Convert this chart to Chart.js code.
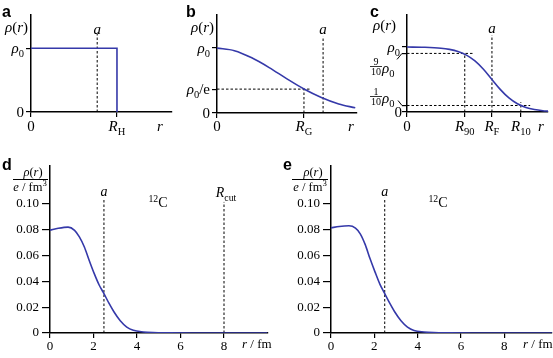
<!DOCTYPE html>
<html>
<head>
<meta charset="utf-8">
<script src="https://cdn.jsdelivr.net/npm/chart.js@4.4.1/dist/chart.umd.min.js"></script>
<style>
  body { margin: 0; background: #fff; }
  #wrap { position: relative; width: 553px; height: 358px; overflow: hidden; background: #fff; }
  canvas { position: absolute; }
</style>
</head>
<body>
<div id="wrap">
  <canvas id="chartA"></canvas>
  <canvas id="chartB"></canvas>
  <canvas id="chartC"></canvas>
  <canvas id="chartD"></canvas>
  <canvas id="chartE"></canvas>
</div>
<script>
// ---- panel a : hard sphere
const aR = [0, 1, 1];
const aRho = [1, 1, 0];
const aPosA = 0.77;
const aXTicks = [0, 1];
const aXLabels = ['0', 'R_{H}'];
const aYTicks = [0, 1];
const aYLabels = ['0', 'ρ_{0}'];

// ---- panel b : gaussian
const bR = [0, 0.2, 0.4, 0.6, 0.8, 1.0, 1.2, 1.4, 1.59];
const bRho = [1, 0.96, 0.85, 0.70, 0.53, 0.37, 0.24, 0.14, 0.08];
const bPosA = 1.22;
const bRhoE = 0.368;
const bXTicks = [0, 1];
const bXLabels = ['0', 'R_{G}'];
const bYTicks = [0, 0.368, 1];
const bYLabels = ['0', 'ρ_{0}/{e}', 'ρ_{0}'];

// ---- panel c : fermi
const cR = [0, 0.2, 0.4, 0.5, 0.6, 0.7, 0.8, 0.9, 1.0, 1.1, 1.2, 1.3, 1.4, 1.5, 1.6, 1.66];
const cRho = [0.998, 0.994, 0.980, 0.962, 0.930, 0.874, 0.784, 0.656, 0.5, 0.344, 0.216, 0.126, 0.070, 0.038, 0.020, 0.014];
const cXTicks = [0, 0.68, 1.0, 1.34];
const cXLabels = ['0', 'R_{90}', 'R_{F}', 'R_{10}'];
const cYTicks = [0, 0.1, 0.9, 1];

// ---- panels d, e : 12C charge density (e / fm^3)
const dR = [0, 0.38, 0.83, 1.13, 1.35, 1.58, 1.8, 2.03, 2.26, 2.45, 2.71, 2.93, 3.23, 3.53, 3.83, 4.29, 4.74, 5.5, 6.5, 8, 10];
const dRho = [0.0797, 0.0812, 0.0821, 0.0796, 0.0745, 0.0667, 0.0564, 0.0462, 0.0372, 0.0315, 0.0231, 0.0167, 0.0095, 0.0046, 0.0021, 0.0008, 0.0003, 0.0001, 0, 0, 0];
const eR = [0, 0.38, 0.83, 1.13, 1.35, 1.58, 1.8, 2.03, 2.26, 2.45, 2.71, 2.93, 3.23, 3.53, 3.83, 4.29, 4.74, 5.5, 6.5, 8, 10.2];
const eRho = [0.0815, 0.0826, 0.0831, 0.0813, 0.0769, 0.0685, 0.0577, 0.0474, 0.0377, 0.0315, 0.0231, 0.0167, 0.0095, 0.0046, 0.0020, 0.0008, 0.0003, 0.0001, 0, 0, 0];
const dPosA = 2.48;
const dRcut = 8;
const ePosA = 2.48;
const fmXTicks = [0, 2, 4, 6, 8];
const fmYTicks = [0, 0.02, 0.04, 0.06, 0.08, 0.10];

const SERIF = '"Liberation Serif", "Times New Roman", serif';
const SANS = '"Liberation Sans", Arial, sans-serif';
const BLUE = '#3539a9';

function pts(xs, ys) {
    return xs.map((x, i) => ({ x: x, y: ys[i] }));
}
function curve(xs, ys, smooth) {
    return { data: pts(xs, ys), borderColor: BLUE, borderWidth: 1.6, pointRadius: 0, fill: false,
             cubicInterpolationMode: smooth ? 'monotone' : 'default', tension: 0 };
}
function dashed(xs, ys) {
    return { data: pts(xs, ys), borderColor: '#000', borderWidth: 1, borderDash: [2.5, 2], pointRadius: 0, fill: false };
}

// tiny markup: letters italic, {..} roman, _{..} subscript, ^{..} superscript
function parse(str) {
    const segs = [];
    let i = 0;
    while (i < str.length) {
        const ch = str[i];
        if ((ch === '_' || ch === '^') && str[i + 1] === '{') {
            const j = str.indexOf('}', i);
            segs.push([ch === '_' ? 's' : 'S', str.slice(i + 2, j)]);
            i = j + 1;
        } else if (ch === '{') {
            const j = str.indexOf('}', i);
            segs.push(['r', str.slice(i + 1, j)]);
            i = j + 1;
        } else {
            segs.push([/[A-Za-zα-ω]/.test(ch) ? 'i' : 'r', ch]);
            i++;
        }
    }
    return segs;
}
function segFont(t, size) {
    if (t === 'i') return 'italic ' + size + 'px ' + SERIF;
    if (t === 's' || t === 'S') return (size * 0.7) + 'px ' + SERIF;
    return size + 'px ' + SERIF;
}
function rich(ctx, str, x, y, align, size) {
    const segs = parse(str);
    let w = 0;
    segs.forEach(s => { ctx.font = segFont(s[0], size); w += ctx.measureText(s[1]).width; });
    let cx = align === 'center' ? x - w / 2 : (align === 'right' ? x - w : x);
    ctx.fillStyle = '#000';
    ctx.textAlign = 'left';
    ctx.textBaseline = 'alphabetic';
    segs.forEach(s => {
        ctx.font = segFont(s[0], size);
        let dy = 0;
        if (s[0] === 's') dy = size * 0.28;
        if (s[0] === 'S') dy = -size * 0.38;
        ctx.fillText(s[1], cx, y + dy);
        cx += ctx.measureText(s[1]).width;
    });
    return w;
}
function title(ctx, t, x, y) {
    ctx.font = 'bold 16px ' + SANS;
    ctx.fillStyle = '#000';
    ctx.textAlign = 'left';
    ctx.textBaseline = 'alphabetic';
    ctx.fillText(t, x, y);
}
function frac(ctx, num, den, cx, yBar, size) {
    ctx.font = size + 'px ' + SERIF;
    ctx.fillStyle = '#000';
    ctx.textAlign = 'center';
    ctx.textBaseline = 'alphabetic';
    ctx.fillText(num, cx, yBar - 2);
    ctx.fillText(den, cx, yBar + size * 0.8);
    const w = Math.max(ctx.measureText(num).width, ctx.measureText(den).width);
    ctx.strokeStyle = '#000';
    ctx.lineWidth = 0.8;
    ctx.beginPath();
    ctx.moveTo(cx - w / 2 - 1, yBar);
    ctx.lineTo(cx + w / 2 + 1, yBar);
    ctx.stroke();
}
function line(ctx, pts2) {
    ctx.strokeStyle = '#000';
    ctx.lineWidth = 1;
    ctx.setLineDash([]);
    ctx.beginPath();
    pts2.forEach((p, i) => i ? ctx.lineTo(p[0], p[1]) : ctx.moveTo(p[0], p[1]));
    ctx.stroke();
}

function makeChart(id, box, area, o) {
    const cv = document.getElementById(id);
    cv.width = box.w;
    cv.height = box.h;
    cv.style.left = box.x + 'px';
    cv.style.top = box.y + 'px';
    const tickFont = { family: SERIF, size: 13 };
    return new Chart(cv, {
        type: 'line',
        data: { datasets: o.datasets },
        options: {
            responsive: false,
            animation: false,
            events: [],
            layout: { padding: { left: 0, top: area.top, right: box.w - area.right, bottom: 0 } },
            plugins: { legend: { display: false }, tooltip: { enabled: false } },
            scales: {
                x: {
                    type: 'linear', min: o.xMin, max: o.xMax,
                    afterBuildTicks: s => { s.ticks = o.xTicks.map(v => ({ value: v })); },
                    afterFit: s => { s.height = box.h - area.bottom; },
                    grid: { drawOnChartArea: false, color: '#000', lineWidth: 1.2, tickLength: o.xTickLen || 5 },
                    border: { color: '#000', width: 1.5 },
                    ticks: { display: !!o.numbers, padding: 1, color: '#000', font: tickFont,
                             callback: v => String(v) }
                },
                y: {
                    type: 'linear', min: o.yMin, max: o.yMax,
                    afterBuildTicks: s => { s.ticks = o.yTicks.map(v => ({ value: v })); },
                    afterFit: s => { s.width = area.left; },
                    grid: { drawOnChartArea: false, color: '#000', lineWidth: 1.2, tickLength: o.yTickLen || 5 },
                    border: { color: '#000', width: 1.5 },
                    ticks: { display: !!o.numbers, padding: 3, color: '#000', font: tickFont,
                             callback: v => (v === 0 ? '0' : v.toFixed(2)) }
                }
            }
        },
        plugins: [{
            id: 'labels',
            afterDraw: c => {
                const ctx = c.ctx;
                const X = v => c.scales.x.getPixelForValue(v) + box.x;
                const Y = v => c.scales.y.getPixelForValue(v) + box.y;
                ctx.save();
                ctx.translate(-box.x, -box.y);
                o.draw(ctx, X, Y);
                ctx.restore();
            }
        }]
    });
}

// panel a
makeChart('chartA', { x: 0, y: 0, w: 185, h: 140 }, { left: 31, right: 172, top: 15, bottom: 112 }, {
    xMin: 0, xMax: 1.64, yMin: 0, yMax: 1.52, xTicks: aXTicks, yTicks: aYTicks,
    datasets: [
        curve(aR, aRho, false),
        dashed([aPosA, aPosA], [0, 1.23])
    ],
    draw: (ctx, X, Y) => {
        title(ctx, 'a', 2, 17);
        rich(ctx, 'ρ(r)', 5, 32, 'left', 15);
        aYTicks.forEach((v, i) => rich(ctx, aYLabels[i], 24, Y(v) + 5, 'right', 15));
        aXTicks.forEach((v, i) => rich(ctx, aXLabels[i], X(v), 131, 'center', 15));
        rich(ctx, 'r', 160, 131, 'center', 15);
        rich(ctx, 'a', X(aPosA), 34, 'center', 15);
    }
});

// panel b
makeChart('chartB', { x: 175, y: 0, w: 193, h: 140 }, { left: 42, right: 182, top: 15, bottom: 113 }, {
    xMin: 0, xMax: 1.61, yMin: 0, yMax: 1.51, xTicks: bXTicks, yTicks: bYTicks,
    datasets: [
        curve(bR, bRho, true),
        dashed([0, 1.07], [bRhoE, bRhoE]),
        dashed([1, 1], [0, bRhoE]),
        dashed([bPosA, bPosA], [0, 1.18])
    ],
    draw: (ctx, X, Y) => {
        title(ctx, 'b', 186, 17);
        rich(ctx, 'ρ(r)', 191, 32, 'left', 15);
        bYTicks.forEach((v, i) => rich(ctx, bYLabels[i], 210, Y(v) + 5, 'right', 15));
        bXTicks.forEach((v, i) => rich(ctx, bXLabels[i], X(v), 131, 'center', 15));
        rich(ctx, 'r', 351, 131, 'center', 15);
        rich(ctx, 'a', X(bPosA), 34, 'center', 15);
    }
});

// panel c
makeChart('chartC', { x: 368, y: 0, w: 185, h: 140 }, { left: 39, right: 180, top: 15, bottom: 112 }, {
    xMin: 0, xMax: 1.66, yMin: 0, yMax: 1.49, xTicks: cXTicks, yTicks: cYTicks,
    datasets: [
        curve(cR, cRho, true),
        dashed([0, 0.79], [0.9, 0.9]),
        dashed([cXTicks[1], cXTicks[1]], [0, 0.9]),
        dashed([0, 1.45], [0.1, 0.1]),
        dashed([cXTicks[3], cXTicks[3]], [0, 0.15]),
        dashed([cXTicks[2], cXTicks[2]], [0, 1.18])
    ],
    draw: (ctx, X, Y) => {
        title(ctx, 'c', 370, 17);
        rich(ctx, 'ρ(r)', 373, 30, 'left', 15);
        rich(ctx, 'ρ_{0}', 400, Y(1) + 5, 'right', 15);
        rich(ctx, '0', 402, Y(0) + 5, 'right', 15);
        frac(ctx, '9', '10', 376, 66.5, 10);
        rich(ctx, 'ρ_{0}', 382, 73, 'left', 15);
        line(ctx, [[402, Y(0.9)], [397, Y(0.9) + 6]]);
        frac(ctx, '1', '10', 376, 96.5, 10);
        rich(ctx, 'ρ_{0}', 382, 103, 'left', 15);
        line(ctx, [[402, Y(0.1)], [398, Y(0.1) - 5]]);
        cXTicks.forEach((v, i) => rich(ctx, cXLabels[i], X(v), 131, 'center', 15));
        rich(ctx, 'r', 541, 131, 'center', 15);
        rich(ctx, 'a', X(cXTicks[2]), 33, 'center', 15);
    }
});

// panel d
makeChart('chartD', { x: 0, y: 140, w: 276, h: 218 }, { left: 50, right: 267.5, top: 25.3, bottom: 193 }, {
    xMin: 0, xMax: 10, yMin: 0, yMax: 0.13, xTicks: fmXTicks, yTicks: fmYTicks,
    numbers: true, xTickLen: 5, yTickLen: 8,
    datasets: [
        curve(dR, dRho, true),
        dashed([dPosA, dPosA], [0, 0.1047]),
        dashed([dRcut, dRcut], [0, 0.1016])
    ],
    draw: (ctx, X, Y) => {
        title(ctx, 'd', 2, 170);
        rich(ctx, 'ρ(r)', 33, 176, 'center', 12.5);
        line(ctx, [[13, 179.5], [48, 179.5]]);
        rich(ctx, 'e / {fm}^{3}', 30, 191, 'center', 12.5);
        rich(ctx, 'a', X(dPosA), 196, 'center', 14);
        rich(ctx, '^{12}{C}', 158, 207, 'center', 14);
        rich(ctx, 'R_{cut}', X(dRcut) + 2, 197, 'center', 14);
        rich(ctx, 'r / {fm}', 242, 348, 'left', 13);
    }
});

// panel e
makeChart('chartE', { x: 276, y: 140, w: 277, h: 218 }, { left: 55, right: 276, top: 25.3, bottom: 193 }, {
    xMin: 0, xMax: 10.2, yMin: 0, yMax: 0.13, xTicks: fmXTicks, yTicks: fmYTicks,
    numbers: true, xTickLen: 5, yTickLen: 8,
    datasets: [
        curve(eR, eRho, true),
        dashed([ePosA, ePosA], [0, 0.1047])
    ],
    draw: (ctx, X, Y) => {
        title(ctx, 'e', 283, 170);
        rich(ctx, 'ρ(r)', 313, 176, 'center', 12.5);
        line(ctx, [[292, 179.5], [328, 179.5]]);
        rich(ctx, 'e / {fm}^{3}', 310, 191, 'center', 12.5);
        rich(ctx, 'a', X(ePosA), 196, 'center', 14);
        rich(ctx, '^{12}{C}', 438, 207, 'center', 14);
        rich(ctx, 'r / {fm}', 523, 348, 'left', 13);
    }
});
</script>
</body>
</html>
